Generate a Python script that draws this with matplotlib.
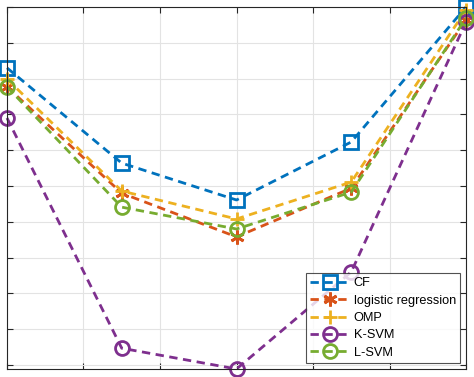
import matplotlib.pyplot as plt
import numpy as np

plt.rcParams['font.family'] = ['Liberation Sans', 'DejaVu Sans']

x = [3, 6, 9, 12, 15]
cf = [8.30, 5.64, 4.61, 6.23, 10.0]
logistic = [7.77, 4.80, 3.58, 4.94, 9.64]
omp = [7.99, 4.86, 4.08, 5.11, 9.92]
ksvm = [6.90, 0.47, -0.11, 2.60, 9.58]
lsvm = [7.77, 4.41, 3.80, 4.83, 9.69]

series = [
    ('CF', cf, '#0072BD', 's'),
    ('logistic regression', logistic, '#D95319', (6, 2, 0)),
    ('OMP', omp, '#EDB120', '+'),
    ('K-SVM', ksvm, '#7E2F8E', 'o'),
    ('L-SVM', lsvm, '#77AC30', 'o'),
]

fig = plt.figure(figsize=(4.74, 3.77), dpi=100)
ax = fig.add_axes([7 / 474, 8 / 377, 459 / 474, 362 / 377])

for name, vals, color, marker in series:
    ax.plot(x, vals, linestyle='--', dashes=(3, 2), color=color, linewidth=2,
            marker=marker, markersize=10, markerfacecolor='none',
            markeredgecolor=color, markeredgewidth=2, label=name, clip_on=False)

ax.set_xlim(3, 15)
ax.set_ylim(-0.11, 10)
ax.set_xticks(np.arange(3, 16, 2))
ax.set_yticks(np.arange(0, 11, 1))
ax.set_xticklabels([])
ax.set_yticklabels([])
ax.tick_params(direction='in', length=4, top=True, right=True, color='#262626')
ax.grid(True, color='#e3e3e3', linewidth=0.8)
ax.set_axisbelow(True)
for s in ax.spines.values():
    s.set_color('#262626')
    s.set_linewidth(0.8)

leg = ax.legend(loc='lower right', fontsize=9.2, frameon=True, fancybox=False,
                edgecolor='#262626', handlelength=3.1, borderpad=0.35,
                labelspacing=0.42, handletextpad=0.3, borderaxespad=0.45)
leg.get_frame().set_linewidth(0.8)

fig.savefig('out.png', dpi=100)
